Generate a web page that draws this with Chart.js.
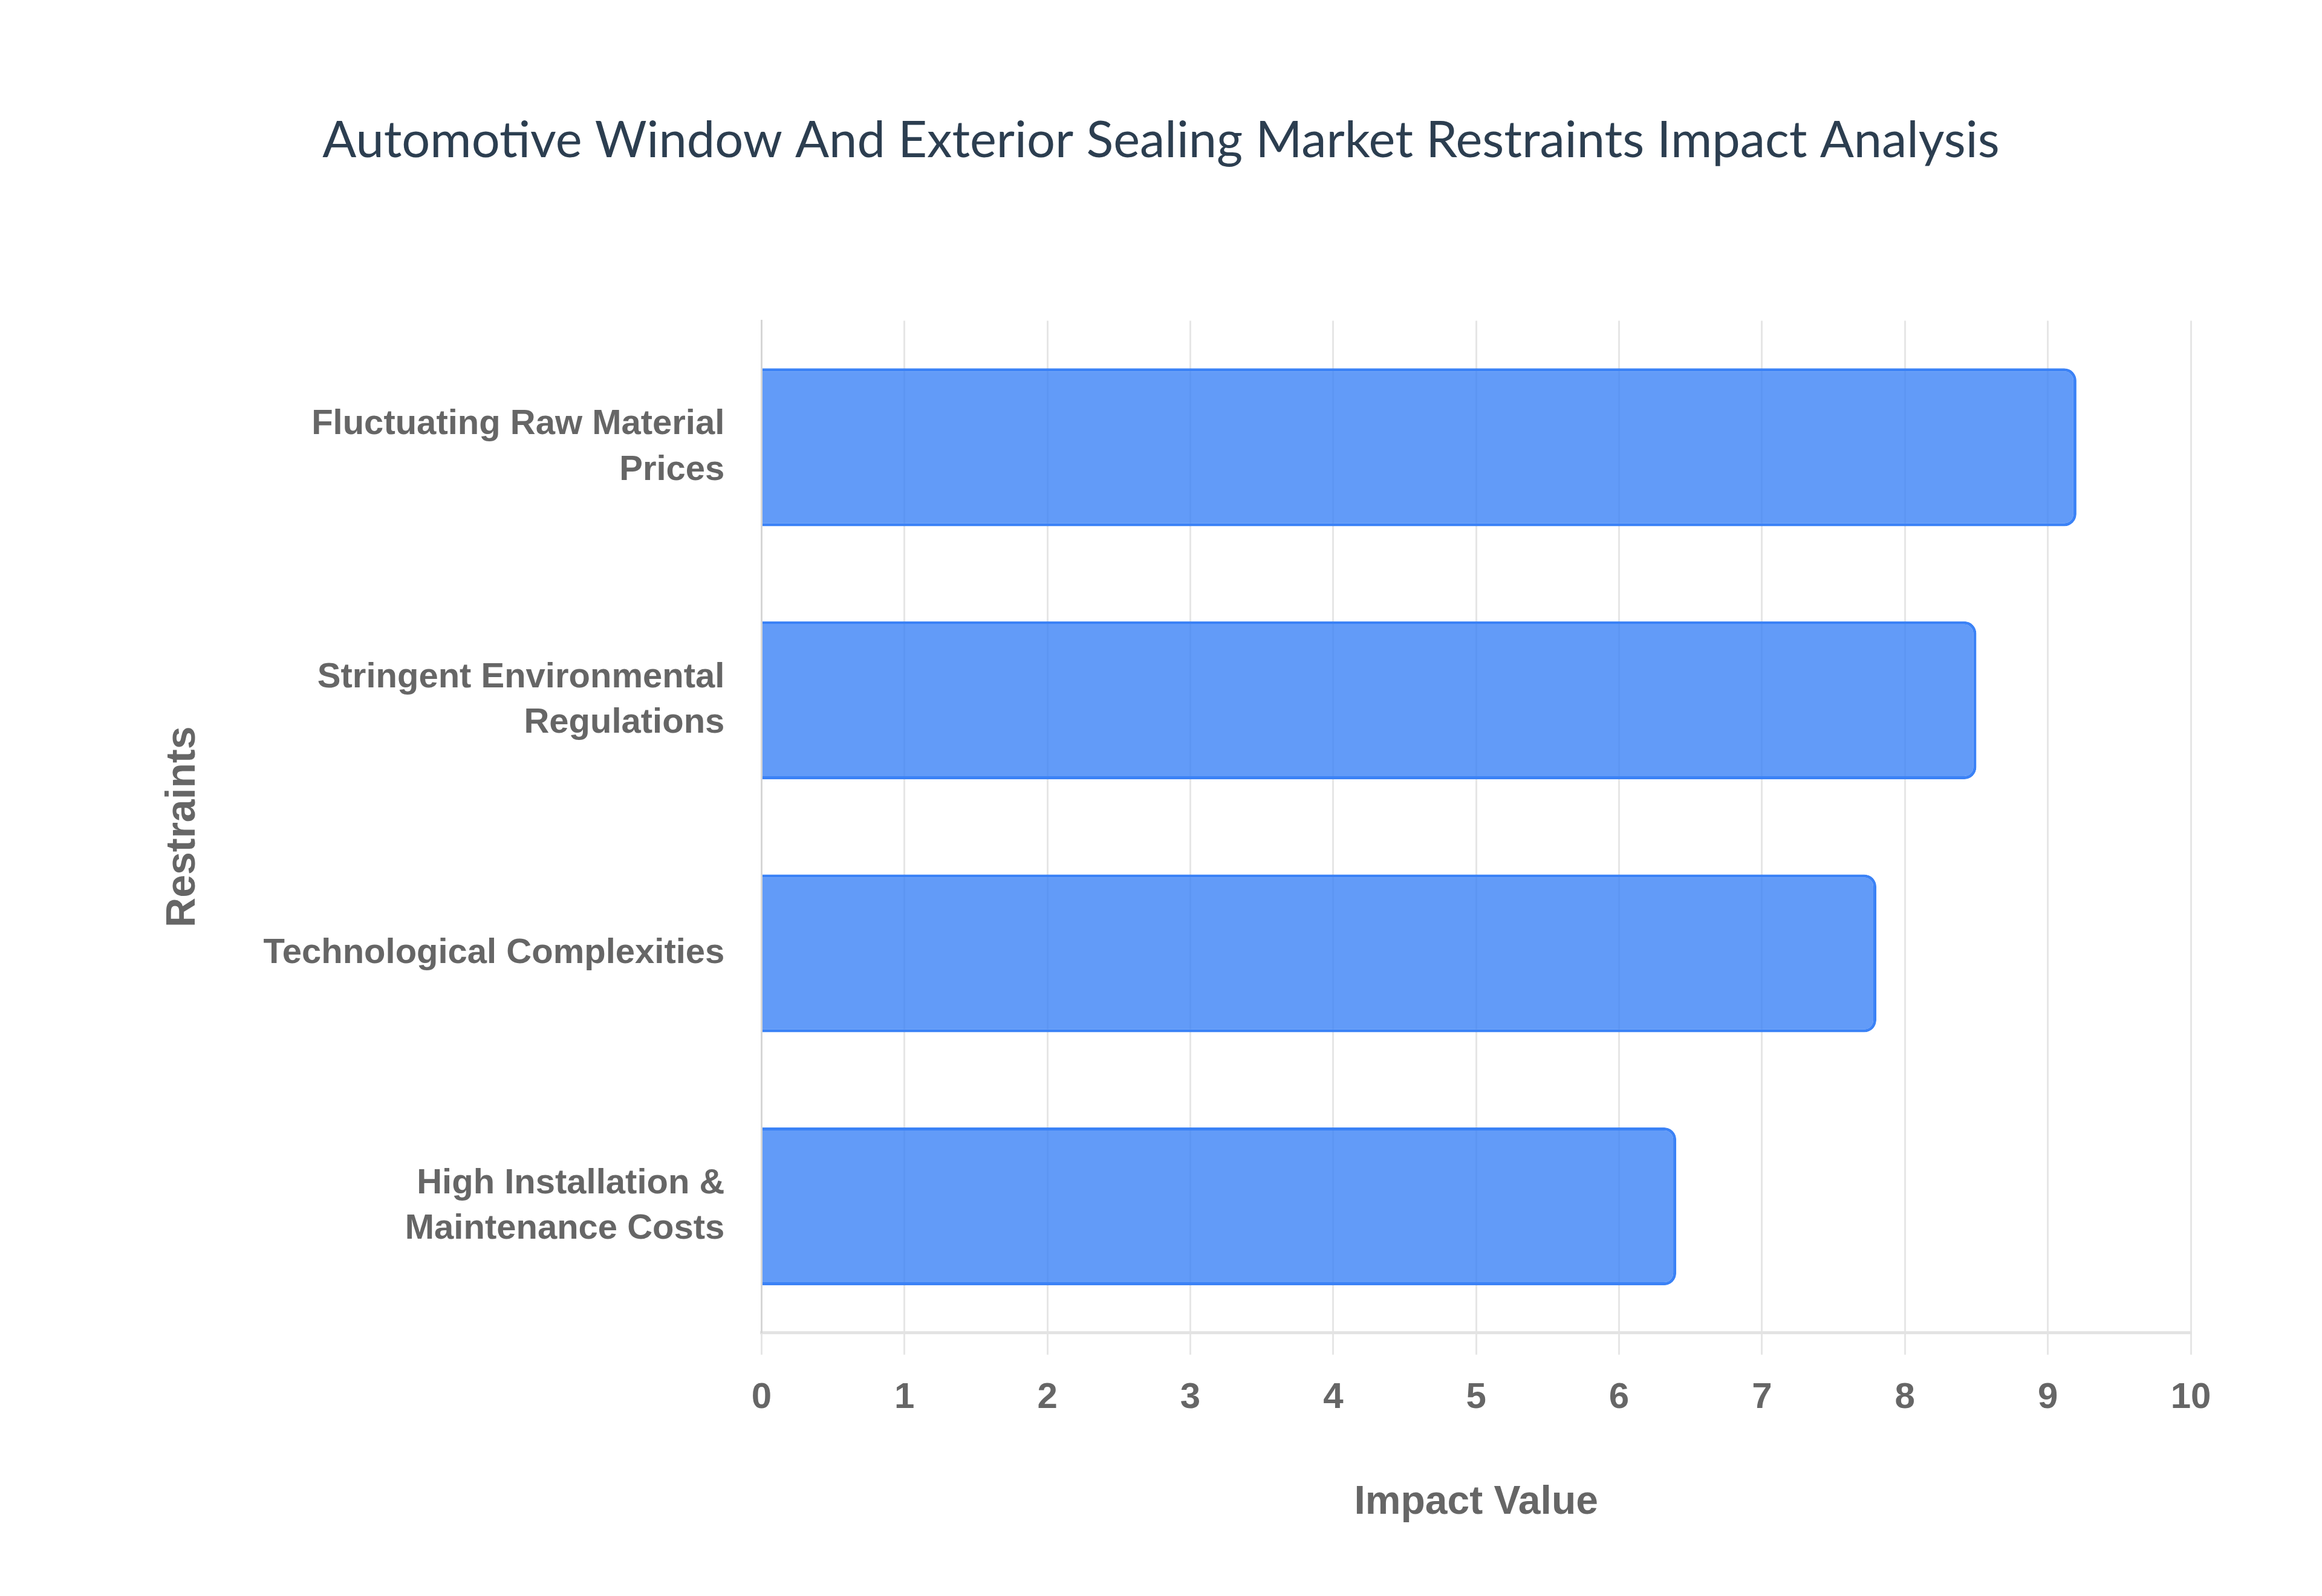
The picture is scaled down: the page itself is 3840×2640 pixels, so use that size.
<!DOCTYPE html>
<html lang="en">
<head>
    <meta charset="UTF-8">
    <title>Market Restraints Impact Analysis</title>
    <script src="https://cdn.jsdelivr.net/npm/chart.js"></script>
    <style>
        html, body {
            margin: 0;
            padding: 0;
            background: #ffffff;
        }
        .chart-box {
            width: 3840px;
            height: 2640px;
            position: relative;
        }
    </style>
</head>
<body>
    <div class="chart-box">
        <canvas id="restraintsChart"></canvas>
    </div>

    <script>
        const chartTitle = 'Automotive Window And Exterior Sealing Market Restraints Impact Analysis';
        const restraintLabels = [
            ['Fluctuating Raw Material', 'Prices'],
            ['Stringent Environmental', 'Regulations'],
            'Technological Complexities',
            ['High Installation &', 'Maintenance Costs']
        ];
        const impactValues = [9.2, 8.5, 7.8, 6.4];
        const xAxisTitle = 'Impact Value';
        const yAxisTitle = 'Restraints';
        const xMin = 0;
        const xMax = 10;

        const tickColor = '#666666';
        const gridColor = '#e6e6e6';

        const ctx = document.getElementById('restraintsChart').getContext('2d');

        const restraintsChart = new Chart(ctx, {
            type: 'bar',
            data: {
                labels: restraintLabels,
                datasets: [{
                    label: 'Impact',
                    data: impactValues,
                    backgroundColor: 'rgba(59, 130, 246, 0.8)',
                    borderColor: '#3b82f6',
                    borderWidth: 5,
                    borderRadius: 20,
                    borderSkipped: 'start',
                    categoryPercentage: 0.8,
                    barPercentage: 0.78
                }]
            },
            options: {
                indexAxis: 'y',
                responsive: true,
                maintainAspectRatio: false,
                devicePixelRatio: 1,
                animation: false,
                layout: {
                    padding: { top: 0, right: 217, bottom: 100, left: 217 }
                },
                plugins: {
                    legend: { display: false },
                    tooltip: { enabled: false },
                    title: {
                        display: true,
                        text: chartTitle,
                        color: '#2c3e50',
                        font: { family: 'Lato', size: 83, weight: 'normal', lineHeight: 1.2 },
                        padding: { top: 183, bottom: 248 }
                    }
                },
                scales: {
                    x: {
                        min: xMin,
                        max: xMax,
                        ticks: {
                            stepSize: 1,
                            color: tickColor,
                            padding: 36,
                            font: { family: 'Liberation Sans, Arial', size: 60, weight: 'bold' }
                        },
                        grid: {
                            color: gridColor,
                            lineWidth: 3,
                            tickLength: 36
                        },
                        border: {
                            color: '#e3e3e3',
                            width: 5
                        },
                        title: {
                            display: true,
                            text: xAxisTitle,
                            color: tickColor,
                            font: { family: 'Liberation Sans, Arial', size: 66, weight: 'bold' },
                            padding: { top: 61, bottom: 15 }
                        }
                    },
                    y: {
                        ticks: {
                            color: tickColor,
                            padding: 61,
                            font: { family: 'Liberation Sans, Arial', size: 58, weight: 'bold', lineHeight: 1.3 }
                        },
                        grid: {
                            display: false,
                            drawTicks: false
                        },
                        border: {
                            color: '#d6d6d6',
                            width: 3
                        },
                        title: {
                            display: true,
                            text: yAxisTitle,
                            color: tickColor,
                            font: { family: 'Liberation Sans, Arial', size: 68, weight: 'bold' },
                            padding: { top: 45, bottom: 31 }
                        }
                    }
                }
            }
        });
    </script>
</body>
</html>
